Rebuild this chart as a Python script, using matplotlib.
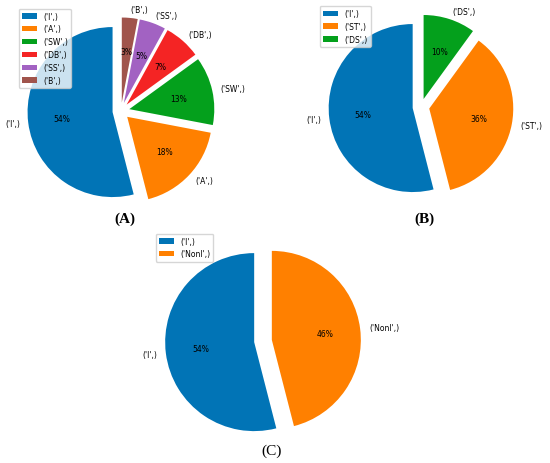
import matplotlib.pyplot as plt

# panel A
labels_a = ["('I',)", "('A',)", "('SW',)", "('DB',)", "('SS',)", "('B',)"]
values_a = [54, 18, 13, 7, 5, 3]
# panel B
labels_b = ["('I',)", "('ST',)", "('DS',)"]
values_b = [54, 36, 10]
# panel C
labels_c = ["('I',)", "('NonI',)"]
values_c = [54, 46]

colors = ['#0174b6', '#ff8000', '#04a01c', '#f42424', '#a262c2', '#a0544c']

W, H = 550, 464
fig = plt.figure(figsize=(W / 100, H / 100), dpi=100)


def make_axes(cx, cy, r):
    half = 1.25 * r
    return fig.add_axes([(cx - half) / W, (H - cy - half) / H, 2 * half / W, 2 * half / H])


def draw_pie(ax, values, labels):
    ax.pie(values, labels=labels, colors=colors[:len(values)], explode=[0.1] * len(values),
           startangle=90, autopct='%1.0f%%', textprops={'fontsize': 5.5})
    ax.legend(labels, loc='upper left', fontsize=5.5)


ax_a = make_axes(121, 112, 85)
draw_pie(ax_a, values_a, labels_a)
ax_b = make_axes(421, 108, 84)
draw_pie(ax_b, values_b, labels_b)
ax_c = make_axes(263, 342, 89)
draw_pie(ax_c, values_c, labels_c)

fig.text(125 / W, 1 - 219 / H, '(A)', ha='center', va='center', fontsize=11,
         family='Liberation Serif', weight='bold')
fig.text(424 / W, 1 - 219 / H, '(B)', ha='center', va='center', fontsize=11,
         family='Liberation Serif', weight='bold')
fig.text(272 / W, 1 - 451 / H, '(C)', ha='center', va='center', fontsize=11,
         family='Liberation Serif')

fig.savefig('out.png', dpi=100)
